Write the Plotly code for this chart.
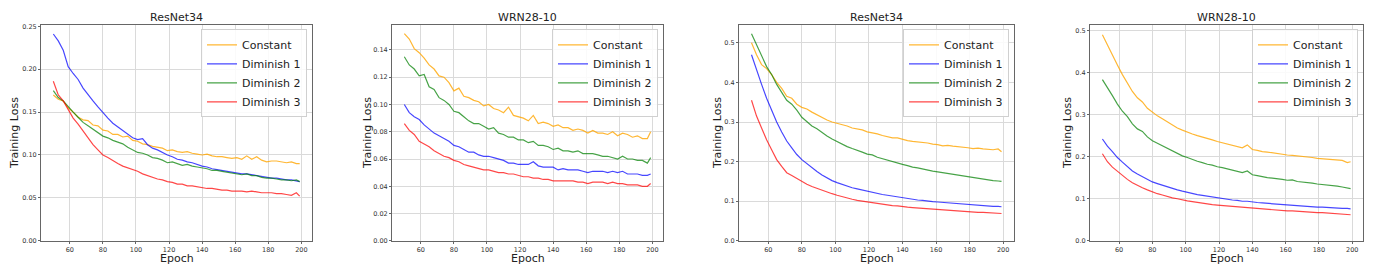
import plotly.graph_objects as go

# ---------------- data ----------------
epochs = [50, 53, 56, 59, 62, 65, 68, 71, 74, 77, 80, 83, 86, 89, 92, 95, 98, 101, 104, 107,
          110, 113, 116, 119, 122, 125, 128, 131, 134, 137, 140, 143, 146, 149, 152, 155, 158,
          161, 164, 167, 170, 173, 176, 179, 182, 185, 188, 191, 194, 197, 199]

series_names = ["Constant", "Diminish 1", "Diminish 2", "Diminish 3"]
panel_titles = ["ResNet34", "WRN28-10", "ResNet34", "WRN28-10"]

# Panel 1: ResNet34
p1_constant = [.170, .165, .163, .155, .150, .144, .141, .140, .135, .134, .129, .128, .124, .124, .121, .122, .117,
               .116, .113, .112, .110, .109, .108, .105, .106, .104, .103, .104, .102, .101, .100, .101, .099, .098,
               .098, .097, .096, .097, .095, .099, .095, .098, .094, .092, .093, .093, .092, .091, .092, .090, .090]
p1_dim1 = [.241, .233, .222, .203, .195, .188, .178, .170, .163, .156, .149, .143, .137, .133, .129, .125, .120,
           .118, .119, .112, .108, .106, .103, .100, .098, .095, .094, .092, .091, .089, .087, .086, .084, .083,
           .082, .081, .080, .079, .078, .078, .077, .076, .075, .074, .073, .073, .072, .071, .071, .070, .069]
p1_dim2 = [.175, .167, .163, .156, .150, .144, .138, .134, .130, .126, .122, .120, .117, .115, .113, .109, .106,
           .103, .102, .100, .097, .096, .094, .091, .092, .090, .088, .089, .087, .086, .085, .084, .082, .082,
           .081, .080, .079, .078, .077, .078, .076, .076, .074, .073, .073, .072, .071, .071, .070, .071, .069]
p1_dim3 = [.186, .170, .163, .153, .143, .136, .128, .120, .112, .106, .100, .097, .093, .090, .087, .085, .083,
           .081, .078, .076, .074, .072, .071, .069, .068, .066, .066, .064, .064, .063, .062, .061, .061, .060,
           .059, .059, .058, .058, .058, .057, .058, .057, .056, .056, .056, .055, .055, .054, .053, .056, .052]

# Panel 2: WRN28-10
p2_constant = [.152, .148, .141, .138, .134, .129, .126, .121, .120, .116, .110, .112, .106, .105, .103, .102, .099,
               .100, .097, .096, .094, .098, .092, .091, .090, .088, .092, .086, .087, .086, .084, .085, .083, .083,
               .081, .082, .081, .079, .081, .079, .079, .078, .080, .077, .079, .078, .076, .077, .075, .075, .080]
p2_dim1 = [.100, .094, .091, .089, .085, .082, .079, .077, .075, .073, .070, .069, .067, .065, .065, .063, .062,
           .062, .061, .060, .059, .057, .057, .056, .056, .056, .058, .055, .054, .054, .054, .052, .053, .052,
           .052, .052, .051, .050, .051, .051, .051, .050, .051, .050, .051, .049, .049, .049, .048, .048, .049]
p2_dim2 = [.135, .129, .126, .121, .122, .113, .111, .105, .103, .100, .095, .094, .091, .088, .086, .086, .084,
           .082, .083, .079, .078, .076, .076, .074, .074, .072, .073, .070, .070, .069, .067, .068, .066, .066,
           .065, .066, .064, .064, .064, .063, .062, .062, .061, .060, .062, .060, .060, .059, .059, .057, .061]
p2_dim3 = [.086, .081, .078, .073, .071, .069, .066, .064, .062, .061, .059, .058, .056, .055, .054, .053, .052,
           .052, .051, .050, .050, .049, .049, .048, .047, .047, .046, .046, .045, .045, .044, .044, .044, .044,
           .044, .043, .043, .042, .043, .043, .043, .042, .043, .042, .042, .041, .041, .041, .040, .040, .042]

# Panel 3: ResNet34
p3_constant = [.500, .470, .445, .435, .420, .400, .385, .365, .360, .345, .337, .333, .325, .318, .310, .305, .300,
               .297, .293, .290, .285, .282, .280, .275, .273, .270, .266, .263, .260, .260, .256, .253, .251, .250,
               .248, .247, .244, .243, .240, .241, .239, .238, .236, .235, .233, .234, .232, .231, .230, .232, .225]
p3_dim1 = [.470, .430, .395, .360, .330, .300, .275, .252, .235, .218, .205, .195, .183, .175, .166, .158, .152,
           .147, .142, .138, .134, .131, .128, .125, .122, .119, .117, .115, .113, .111, .108, .106, .105, .103,
           .102, .100, .099, .098, .097, .095, .094, .093, .092, .091, .090, .089, .089, .088, .087, .087, .086]
p3_dim2 = [.523, .495, .465, .440, .420, .395, .375, .355, .345, .330, .312, .300, .290, .283, .273, .265, .257,
           .250, .245, .238, .233, .229, .224, .219, .217, .211, .207, .203, .200, .196, .193, .190, .186, .184,
           .181, .178, .176, .174, .172, .169, .167, .166, .163, .161, .160, .158, .155, .153, .152, .151, .150]
p3_dim3 = [.355, .315, .285, .255, .230, .205, .188, .172, .165, .157, .149, .143, .137, .132, .127, .122, .119,
           .115, .111, .108, .105, .102, .100, .098, .096, .094, .092, .091, .089, .088, .086, .085, .084, .083,
           .082, .081, .080, .079, .078, .077, .076, .075, .074, .074, .073, .072, .072, .071, .070, .070, .069]

# Panel 4: WRN28-10
p4_constant = [.490, .465, .440, .418, .395, .375, .355, .340, .330, .315, .305, .297, .290, .282, .274, .268, .263,
               .258, .254, .250, .247, .243, .240, .236, .233, .231, .228, .224, .221, .228, .217, .215, .212, .211,
               .209, .208, .206, .204, .203, .202, .200, .199, .198, .196, .195, .194, .193, .192, .191, .186, .188]
p4_dim1 = [.242, .225, .212, .198, .187, .176, .166, .159, .152, .146, .140, .136, .132, .128, .125, .121, .118,
           .115, .113, .110, .108, .106, .104, .102, .101, .099, .097, .096, .094, .094, .092, .091, .090, .089,
           .088, .087, .086, .085, .085, .084, .083, .082, .081, .080, .080, .079, .078, .078, .077, .077, .076]
p4_dim2 = [.383, .365, .345, .325, .308, .295, .278, .266, .260, .247, .238, .232, .226, .220, .214, .208, .202,
           .198, .193, .189, .186, .182, .180, .176, .174, .171, .168, .165, .162, .166, .157, .155, .152, .150,
           .149, .148, .146, .144, .145, .141, .140, .138, .137, .135, .134, .133, .132, .130, .128, .125, .124]
p4_dim3 = [.207, .188, .175, .165, .155, .146, .138, .131, .126, .121, .116, .112, .109, .105, .102, .100, .097,
           .095, .093, .091, .089, .088, .086, .085, .084, .082, .081, .080, .079, .078, .077, .076, .075, .074,
           .073, .072, .072, .071, .071, .070, .069, .069, .068, .067, .067, .066, .066, .065, .064, .063, .062]

panel_data = [
    [p1_constant, p1_dim1, p1_dim2, p1_dim3],
    [p2_constant, p2_dim1, p2_dim2, p2_dim3],
    [p3_constant, p3_dim1, p3_dim2, p3_dim3],
    [p4_constant, p4_dim1, p4_dim2, p4_dim3],
]
x_ticks = [60, 80, 100, 120, 140, 160, 180, 200]
y_ticks = [
    [0.00, 0.05, 0.10, 0.15, 0.20, 0.25],
    [0.00, 0.02, 0.04, 0.06, 0.08, 0.10, 0.12, 0.14],
    [0.0, 0.1, 0.2, 0.3, 0.4, 0.5],
    [0.0, 0.1, 0.2, 0.3, 0.4, 0.5],
]

# ---------------- layout / style ----------------
W, H = 1376, 276
colors = ["rgba(255,165,0,0.8)", "rgba(0,0,255,0.72)", "rgba(0,128,0,0.72)", "rgba(255,0,0,0.72)"]
y_fmt = [".2f", ".2f", ".1f", ".1f"]
y_top = [0.251, 0.158, 0.544, 0.512]
box_x = [(41, 312), (392, 663), (739, 1014), (1090, 1363)]
ylab_x = [14, 367, 717, 1067]
box_top, box_bot = 23, 244
FONT = "DejaVu Sans"


def fx(p):
    return p / W


def fy(p):
    return 1 - p / H


fig = go.Figure()
layout = dict(
    width=W, height=H, margin=dict(l=0, r=0, t=0, b=0),
    paper_bgcolor="white", plot_bgcolor="white",
    font=dict(family=FONT, color="#222"),
    showlegend=True,
    annotations=[],
)

for i in range(4):
    k = "" if i == 0 else str(i + 1)
    lg = "legend" if i == 0 else "legend" + str(i + 1)
    for j in range(4):
        fig.add_trace(go.Scatter(
            x=epochs, y=panel_data[i][j], mode="lines", name=series_names[j],
            line=dict(color=colors[j], width=1.2),
            xaxis="x" + k, yaxis="y" + k, legend=lg,
        ))
    x0, x1 = box_x[i]
    axis_common = dict(
        showgrid=True, gridcolor="#dadada", gridwidth=1,
        showline=True, linecolor="#666", linewidth=1, mirror=True,
        ticks="outside", ticklen=2, tickcolor="#666",
        tickfont=dict(size=6.5, color="#333", family=FONT),
        zeroline=False,
    )
    layout["xaxis" + k] = dict(
        domain=[fx(x0), fx(x1)], anchor="y" + k, range=[42.55, 206.45],
        tickvals=x_ticks, **axis_common,
    )
    layout["yaxis" + k] = dict(
        domain=[fy(box_bot), fy(box_top)], anchor="x" + k, range=[0, y_top[i]],
        tickvals=y_ticks[i], tickformat=y_fmt[i], **axis_common,
    )
    layout[lg] = dict(
        x=fx(x1 - 5), y=fy(box_top + 4), xanchor="right", yanchor="top",
        xref="paper", yref="paper",
        bgcolor="rgba(255,255,255,0.85)", bordercolor="#d0d0d0", borderwidth=1,
        font=dict(size=11, family=FONT, color="#222"),
        itemwidth=30, tracegroupgap=0,
    )
    cx = (x0 + x1) / 2
    layout["annotations"] += [
        dict(text=panel_titles[i], x=fx(cx), y=fy(15), xref="paper", yref="paper",
             showarrow=False, xanchor="center", yanchor="middle",
             font=dict(size=11, family=FONT, color="#222")),
        dict(text="Epoch", x=fx(cx), y=fy(262), xref="paper", yref="paper",
             showarrow=False, xanchor="center", yanchor="middle",
             font=dict(size=11, family=FONT, color="#222")),
        dict(text="Training Loss", x=fx(ylab_x[i]), y=fy((box_top + box_bot) / 2),
             xref="paper", yref="paper", textangle=-90,
             showarrow=False, xanchor="center", yanchor="middle",
             font=dict(size=11, family=FONT, color="#222")),
    ]

fig.update_layout(**layout)
fig.write_html(
    "out.html",
    config={"displayModeBar": False},
    post_script="document.body.style.margin='0';document.body.style.padding='0';",
)
